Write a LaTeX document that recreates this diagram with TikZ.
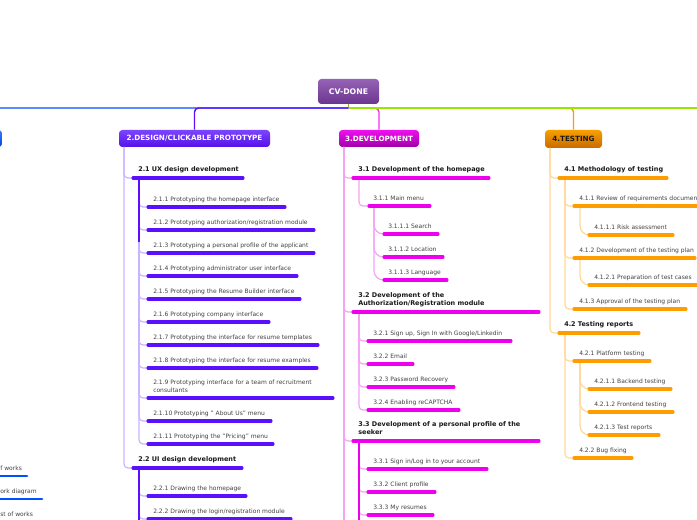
\documentclass[tikz,border=0pt]{standalone}
\usepackage{fontspec}
\setmainfont{DejaVu Sans}
\definecolor{desD}{HTML}{5B0FFF}
\definecolor{desL}{HTML}{C9B5FF}
\definecolor{devD}{HTML}{EE00EE}
\definecolor{devL}{HTML}{F5A3F5}
\definecolor{tstD}{HTML}{FF9D00}
\definecolor{tstL}{HTML}{FFD89A}
\definecolor{bluD}{HTML}{0050FF}
\definecolor{grnD}{HTML}{99E600}
\definecolor{subc}{HTML}{404040}
\definecolor{cvT}{HTML}{9563B5}
\definecolor{cvB}{HTML}{6B358F}
\definecolor{bluT}{HTML}{3A7BFF}
\definecolor{bluB}{HTML}{0044DD}
\definecolor{desT}{HTML}{7B45FF}
\definecolor{desB}{HTML}{5510E8}
\definecolor{devT}{HTML}{EE10EE}
\definecolor{devB}{HTML}{A000A8}
\definecolor{tstT}{HTML}{F7A000}
\definecolor{tstB}{HTML}{C86A00}
\definecolor{olv}{HTML}{A0A040}
\newcommand\mmsub[6]{%
  \coordinate (#1s) at (#4,#3);
  \coordinate (#1e) at (#5,#3);
  \node[subtxt] (#1) at (#2,#3-4) {#6};
  \draw[ul] (#1s) -- (#1e);
}
\newcommand\mmhead[6]{%
  \coordinate (#1s) at (#4,#3);
  \coordinate (#1e) at (#5,#3);
  \node[headtxt] (#1) at (#2,#3-4.5) {#6};
  \draw[ul] (#1s) -- (#1e);
}
\begin{document}
\begin{tikzpicture}[x=0.75pt,y=-0.75pt,
  subtxt/.style={anchor=south west, inner sep=0pt, text depth=1pt, align=left,
     text=subc, font=\fontsize{4.5pt}{6pt}\selectfont},
  headtxt/.style={anchor=south west, inner sep=0pt, text depth=1pt, align=left,
     text=black!90, font=\fontsize{4.85pt}{6pt}\selectfont\bfseries},
  mainbox/.style={rounded corners=2.5pt, inner sep=0pt, text=white,
     font=\fontsize{5.4pt}{6pt}\selectfont\bfseries},
  topline/.style={line width=1.1pt, rounded corners=3pt},
  lt/.style={line width=0.9pt, rounded corners=3pt},
  ltc/.style={line width=0.9pt, rounded corners=7pt},
  stem/.style={line width=1.6pt}
]
\useasboundingbox (0,0) rectangle (697,520);
\clip (0,0) rectangle (697,520);

% ---------- main boxes ----------
\node[mainbox, top color=cvT, bottom color=cvB,
      minimum width=61*0.75pt, minimum height=25*0.75pt,
      font=\fontsize{5.8pt}{6pt}\selectfont\bfseries] (cv) at (348.5,91.5) {CV-DONE};
\node[mainbox, top color=bluT, bottom color=bluB,
      minimum width=60*0.75pt, minimum height=17*0.75pt] (blu) at (-28,138.5) {};
\node[mainbox, top color=desT, bottom color=desB,
      minimum width=151*0.75pt, minimum height=17*0.75pt] (des) at (194.5,138.5) {2.DESIGN/CLICKABLE PROTOTYPE};
\node[mainbox, top color=devT, bottom color=devB,
      minimum width=80*0.75pt, minimum height=17*0.75pt] (dev) at (379,138.5) {3.DEVELOPMENT};
\node[mainbox, top color=tstT, bottom color=tstB, text=black!90,
      minimum width=57*0.75pt, minimum height=18*0.75pt] (tst) at (573.5,139) {4.TESTING};

% ---------- top connectors ----------
\coordinate (jn) at (348.5,108);
\coordinate (rgt) at (720,108);
\draw[topline, draw=bluD] (jn) -| (blu.north);
\draw[topline, draw=desD] (jn) -| (des.north);
\draw[topline, draw=tstD] (jn) -| (tst.north);
\draw[topline, draw=devD!80] (jn) -| (dev.north);
\draw[topline, draw=grnD] (jn) -- (rgt);
\draw[line width=1.1pt, draw=olv] (cv.south) -- (jn);

% ---------- left (blue) column, partly visible ----------
\begin{scope}[ul/.style={line width=2.2pt, draw=bluD, line cap=round}]
\mmsub{b1}{0}{476}{-20}{27}{f works}
\mmsub{b2}{0}{499}{-20}{42}{ork diagram}
\mmsub{b3}{0}{522}{-20}{40}{st of works}
\end{scope}

% ---------- design column ----------
\begin{scope}[ul/.style={line width=2.3pt, draw=desD, line cap=round}]
\coordinate (desLft) at (124,147);
\coordinate (h21st) at (139,178);
\coordinate (h21se) at (139,242);
\coordinate (h22st) at (139,468);
\coordinate (h22se) at (139,530);
\draw[lt, draw=desL] (desLft) |- (133,178);
\draw[lt, draw=desL] (desLft) |- (133,468);
\foreach \y in {207,230,253,276,299,322,345,368,398,421,444}
  {\draw[lt, draw=desL] (h21st) |- (148,\y);}
\foreach \y in {496,519}
  {\draw[lt, draw=desL] (h22st) |- (148,\y);}
\draw[stem, draw=desD] (h21st) -- (h21se);
\draw[stem, draw=desD] (h22st) -- (h22se);
\mmhead{h21}{138}{178}{133}{243}{2.1 UX design development}
\mmsub{c211}{153}{207}{148}{285}{2.1.1 Prototyping the homepage interface}
\mmsub{c212}{153}{230}{148}{314}{2.1.2 Prototyping authorization/registration module}
\mmsub{c213}{153}{253}{148}{314}{2.1.3 Prototyping a personal profile of the applicant}
\mmsub{c214}{153}{276}{148}{297}{2.1.4 Prototyping administrator user interface}
\mmsub{c215}{153}{299}{148}{300}{2.1.5 Prototyping the Resume Builder interface}
\mmsub{c216}{153}{322}{148}{269}{2.1.6 Prototyping company interface}
\mmsub{c217}{153}{345}{148}{318}{2.1.7 Prototyping the interface for resume templates}
\mmsub{c218}{153}{368}{148}{317}{2.1.8 Prototyping the interface for resume examples}
\mmsub{c219}{153}{398}{148}{333}{2.1.9 Prototyping interface for a team of recruitment\\consultants}
\mmsub{c2110}{153}{421}{148}{271}{2.1.10 Prototyping " About Us" menu}
\mmsub{c2111}{153}{444}{148}{273}{2.1.11 Prototyping the "Pricing" menu}
\mmhead{h22}{138}{468}{133}{242}{2.2 UI design development}
\mmsub{c221}{153}{496}{148}{246}{2.2.1 Drawing the homepage}
\mmsub{c222}{153}{519}{148}{291}{2.2.2 Drawing the login/registration module}
\end{scope}

% ---------- development column ----------
\begin{scope}[ul/.style={line width=2.3pt, draw=devD, line cap=round}]
\coordinate (devLft) at (344,147);
\coordinate (devBot) at (344,530);
\draw[lt, draw=devL] (devLft) -- (devBot);
\foreach \y in {178,312,441}
  {\draw[lt, draw=devL] (devLft) |- (353,\y);}
\coordinate (h31st) at (359,178);
\draw[lt, draw=devL] (h31st) |- (369,206);
\coordinate (d311st) at (374,206);
\foreach \y in {234,257,280}
  {\draw[ltc, draw=devL] (d311st) |- (384,\y);}
\coordinate (h32st) at (359,312);
\foreach \y in {341,364,387,410}
  {\draw[lt, draw=devL] (h32st) |- (368,\y);}
\coordinate (h33st) at (359,441);
\coordinate (h33se) at (359,530);
\foreach \y in {469,492,515}
  {\draw[lt, draw=devL] (h33st) |- (368,\y);}
\draw[stem, draw=devD] (h33st) -- (h33se);
\mmhead{h31}{358}{178}{353}{489}{3.1 Development of the homepage}
\mmsub{d311}{373}{206}{369}{430}{3.1.1 Main menu}
\mmsub{d3111}{388}{234}{384}{438}{3.1.1.1 Search}
\mmsub{d3112}{388}{257}{384}{443}{3.1.1.2 Location}
\mmsub{d3113}{388}{280}{384}{447}{3.1.1.3 Language}
\mmhead{h32}{358}{312}{353}{539}{3.2 Development of the\\Authorization/Registration module}
\mmsub{d321}{373}{341}{368}{511}{3.2.1 Sign up, Sign In with Google/Linkedin}
\mmsub{d322}{373}{364}{368}{413}{3.2.2 Email}
\mmsub{d323}{373}{387}{368}{454}{3.2.3 Password Recovery}
\mmsub{d324}{373}{410}{368}{459}{3.2.4 Enabling reCAPTCHA}
\mmhead{h33}{358}{441}{353}{539}{3.3 Development of a personal profile of the\\seeker}
\mmsub{d331}{373}{469}{368}{487}{3.3.1 Sign in/Log in to your account}
\mmsub{d332}{373}{492}{368}{435}{3.3.2 Client profile}
\mmsub{d333}{373}{515}{368}{433}{3.3.3 My resumes}
\end{scope}

% ---------- testing column ----------
\begin{scope}[ul/.style={line width=2.3pt, draw=tstD, line cap=round}]
\coordinate (tstLft) at (550,148);
\foreach \y in {178,333}
  {\draw[lt, draw=tstL] (tstLft) |- (559,\y);}
\coordinate (h41st) at (565,178);
\foreach \y in {206,258,309}
  {\draw[lt, draw=tstL] (h41st) |- (574,\y);}
\coordinate (t411st) at (580,206);
\draw[ltc, draw=tstL] (t411st) |- (589,235);
\coordinate (t412st) at (580,258);
\draw[ltc, draw=tstL] (t412st) |- (589,285);
\coordinate (h42st) at (565,333);
\foreach \y in {361,458}
  {\draw[lt, draw=tstL] (h42st) |- (574,\y);}
\coordinate (t421st) at (580,361);
\foreach \y in {389,412,435}
  {\draw[ltc, draw=tstL] (t421st) |- (589,\y);}
\mmhead{h41}{564}{178}{559}{667}{4.1 Methodology of testing}
\mmsub{t411}{579}{206}{574}{720}{4.1.1 Review of requirements documentation}
\mmsub{t4111}{594}{235}{589}{673}{4.1.1.1 Risk assessment}
\mmsub{t412}{579}{258}{574}{695}{4.1.2 Development of the testing plan}
\mmsub{t4121}{594}{285}{589}{720}{4.1.2.1 Preparation of test cases}
\mmsub{t413}{579}{309}{574}{686}{4.1.3 Approval of the testing plan}
\mmhead{h42}{564}{333}{559}{639}{4.2 Testing reports}
\mmsub{t421}{579}{361}{574}{650}{4.2.1 Platform testing}
\mmsub{t4211}{594}{389}{589}{671}{4.2.1.1 Backend testing}
\mmsub{t4212}{594}{412}{589}{673}{4.2.1.2 Frontend testing}
\mmsub{t4213}{594}{435}{589}{659}{4.2.1.3 Test reports}
\mmsub{t422}{579}{458}{574}{632}{4.2.2 Bug fixing}
\end{scope}
\end{tikzpicture}
\end{document}
